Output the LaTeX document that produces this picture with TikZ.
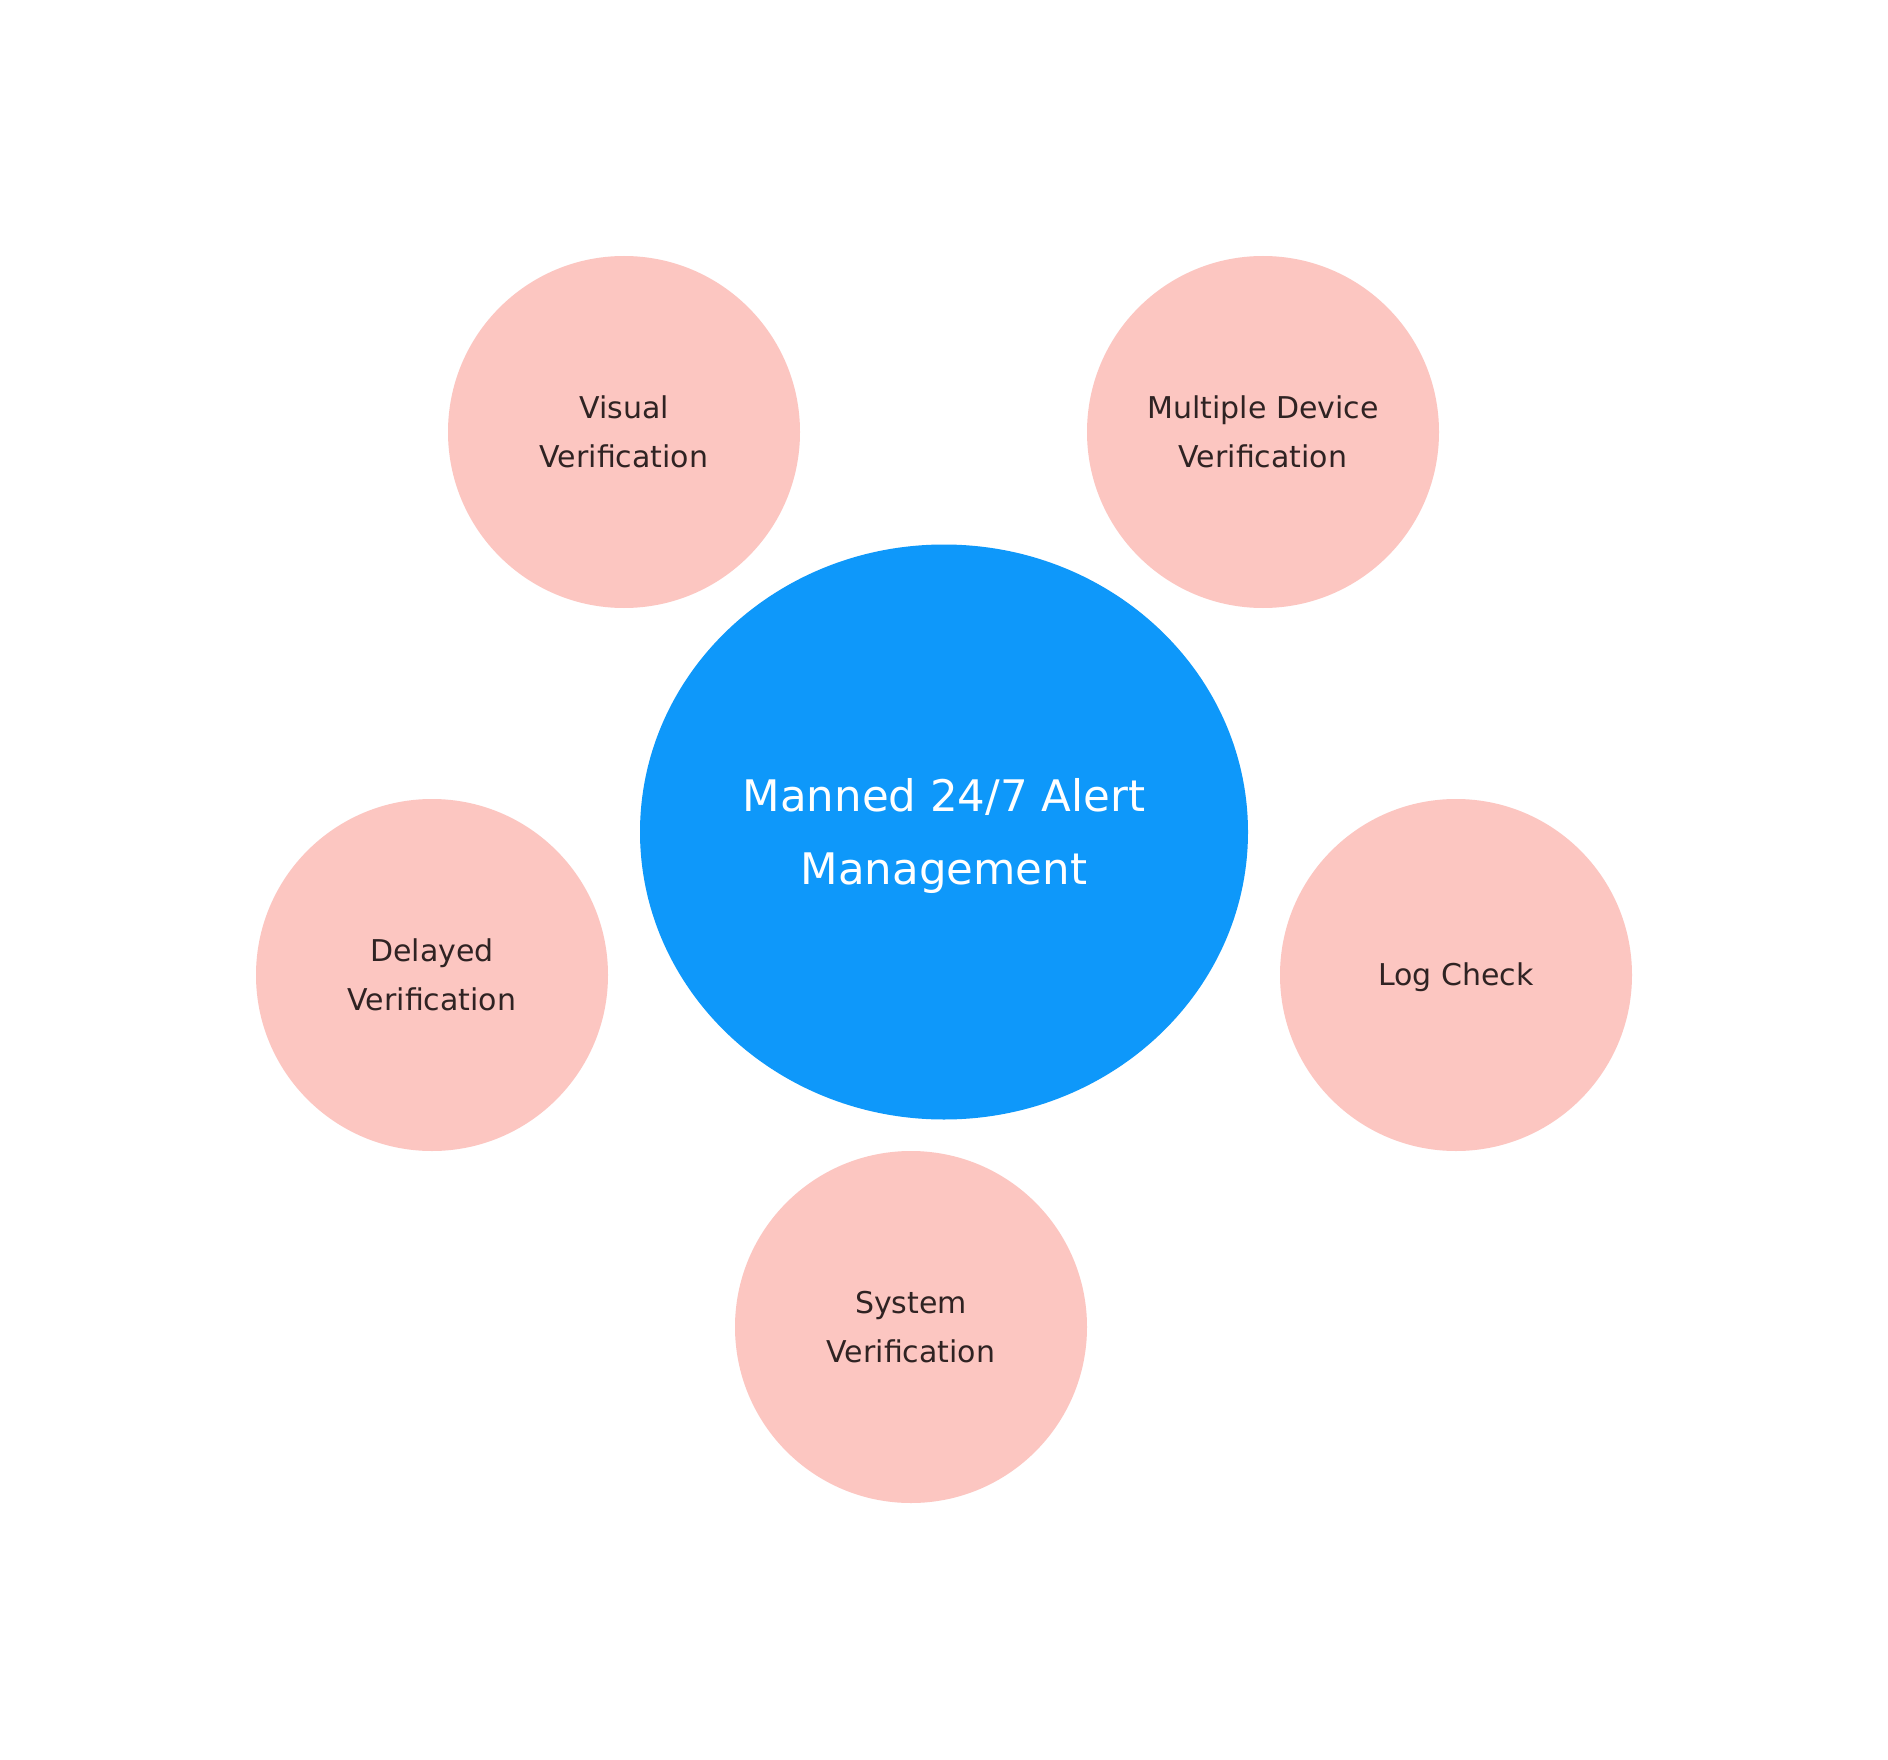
\documentclass[tikz,border=0pt]{standalone}
\usepackage{fontspec}
\setmainfont{DejaVu Sans}
\usetikzlibrary{shapes.geometric}
\definecolor{pinkfill}{HTML}{FCC6C1}
\definecolor{bluefill}{HTML}{0E98FA}
\definecolor{darktext}{HTML}{2F2323}
\tikzset{
  topic/.style={circle, fill=pinkfill, draw=none, minimum size=352pt, inner sep=0pt,
    text=darktext, align=center, font=\fontsize{30}{49}\selectfont},
  hub/.style={ellipse, fill=bluefill, draw=none, minimum width=608pt, minimum height=575pt,
    inner sep=0pt},
  hubtext/.style={text=white, align=center, inner sep=0pt, font=\fontsize{43.5}{73}\selectfont}
}
\begin{document}
\begin{tikzpicture}[x=1pt,y=-1pt]
\useasboundingbox[fill=white] (0,0) rectangle (1888,1760);
\node[hub] (hub) at (944,832) {};
\node[hubtext] (hubtext) at ([yshift=-4pt]hub.center) {Manned 24/7 Alert\\Management};
\node[topic] (visual) at (624,432) {Visual\\Verification};
\node[topic] (multi) at (1263,432) {Multiple Device\\Verification};
\node[topic] (delayed) at (432,975) {Delayed\\Verification};
\node[topic, text depth=2pt] (log) at (1456,975) {Log Check};
\node[topic] (system) at (911,1327) {System\\Verification};
\end{tikzpicture}
\end{document}
